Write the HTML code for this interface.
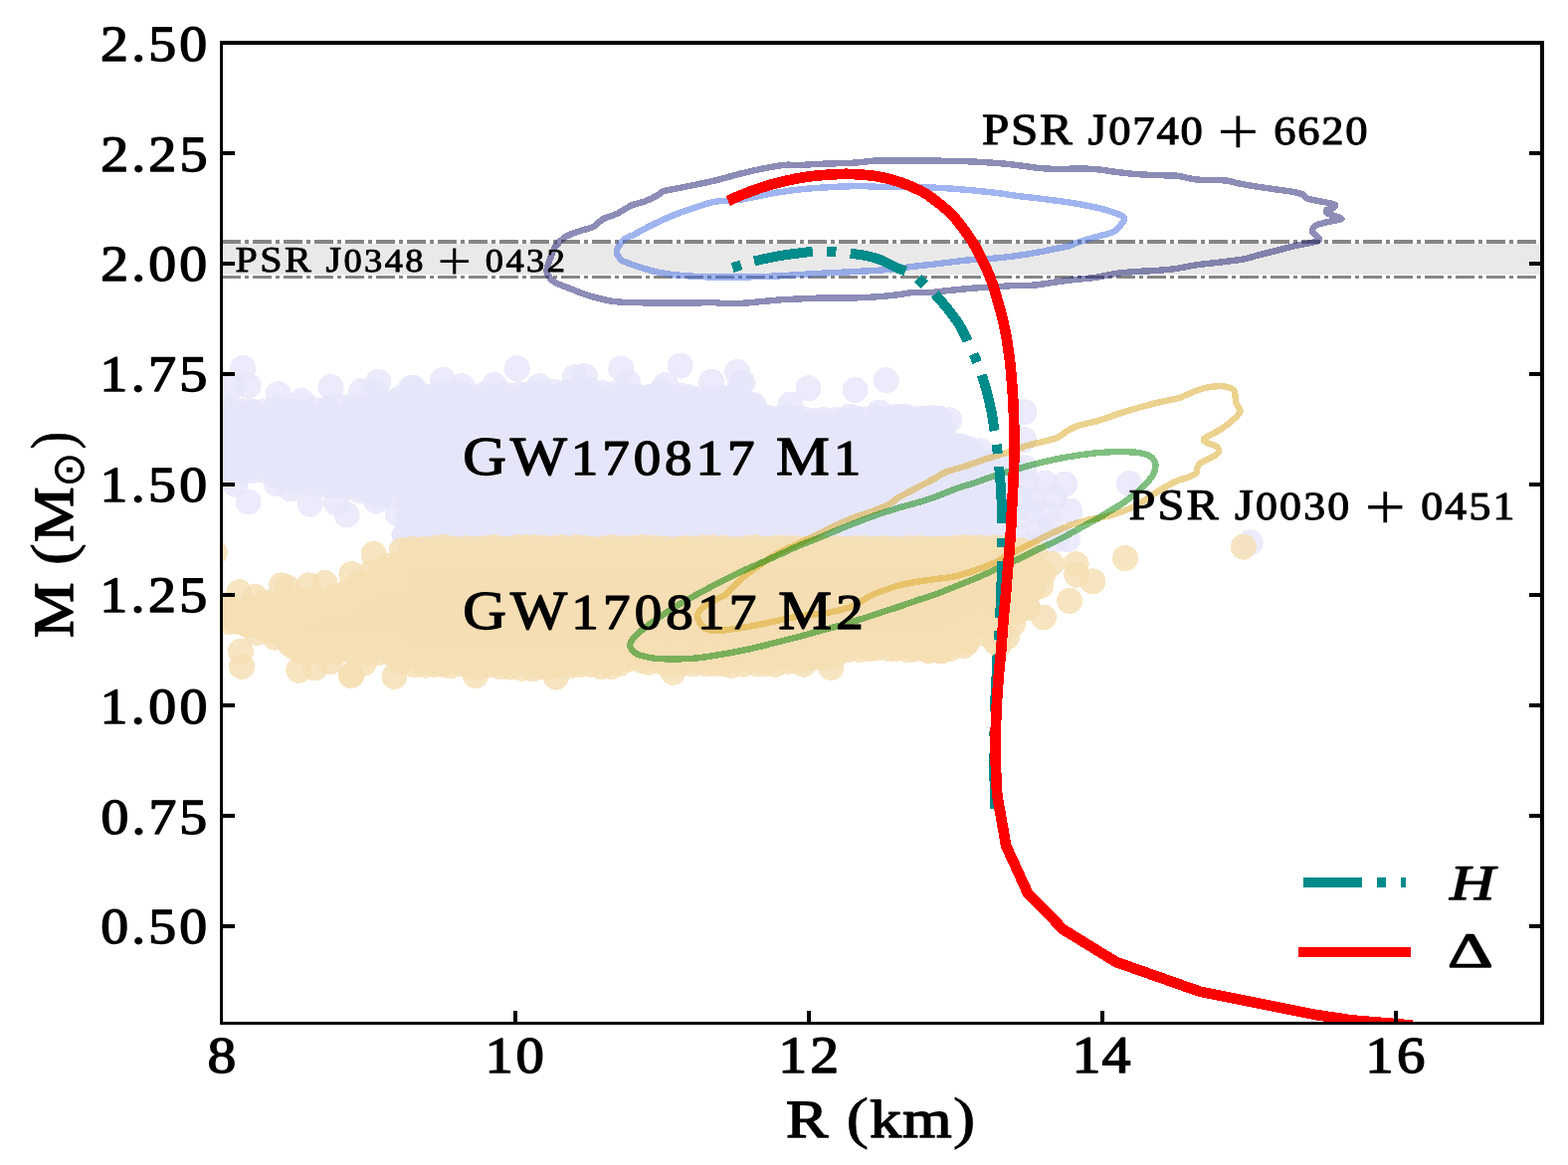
<!DOCTYPE html>
<html lang="en"><head><meta charset="utf-8"><title>Mass-radius relation</title>
<style>html,body{margin:0;padding:0;background:#fff}body{width:1576px;height:1171px;overflow:hidden}svg{display:block}text{font-family:"Liberation Serif",serif;text-rendering:geometricPrecision;fill:#000;stroke:#000;stroke-width:0.027em;stroke-linejoin:round}.sun{font-family:"DejaVu Sans",sans-serif;stroke-width:0.012em}.n2{stroke-width:0.013em}.c{font-size:1.1em}.p{font-size:1.68em;stroke-width:0}.n{font-size:1.075em;stroke-width:0.012em}</style></head><body>
<svg width="1576" height="1171" viewBox="0 0 1576 1171">
<rect width="1576" height="1171" fill="#fff"/>
<defs><clipPath id="ax"><rect x="222.6" y="42.9" width="1327.5" height="985.2"/></clipPath></defs>
<g clip-path="url(#ax)" shape-rendering="crispEdges">
<rect x="222.6" y="245.0" width="1324.1" height="31.3" fill="#d3d3d3" fill-opacity="0.5"/>
<g fill="#e6e6fa">
<path d="M398.0,404.0L403.0,402.4L408.0,401.4L413.0,400.9L418.0,400.8L423.0,400.7L428.0,400.6L433.0,400.5L438.0,400.4L443.0,400.3L448.0,400.2L453.0,400.0L458.0,400.1L463.0,400.2L468.0,400.3L473.0,400.4L478.0,400.5L483.0,400.6L488.0,400.7L493.0,400.8L498.0,401.0L503.0,400.9L508.0,400.8L513.0,400.7L518.0,400.6L523.0,400.4L528.0,400.3L533.0,400.2L538.0,400.1L543.0,399.7L548.0,399.1L553.0,398.5L558.0,397.9L563.0,397.4L568.0,396.8L573.0,396.2L578.0,396.1L583.0,396.3L588.0,396.5L593.0,396.7L598.0,396.9L603.0,397.6L608.0,398.6L613.0,399.6L618.0,400.1L623.0,400.2L628.0,400.4L633.0,400.5L638.0,400.7L643.0,400.8L648.0,401.0L653.0,401.2L658.0,401.3L663.0,401.5L668.0,401.6L673.0,401.8L678.0,401.9L683.0,402.1L688.0,402.4L693.0,402.6L698.0,402.9L703.0,402.9L708.0,402.8L713.0,402.7L718.0,402.6L723.0,402.5L728.0,402.4L733.0,402.3L738.0,402.2L743.0,402.0L748.0,404.7L753.0,409.2L758.0,415.3L763.0,421.1L768.0,421.5L773.0,421.9L778.0,422.3L783.0,422.7L788.0,423.1L793.0,423.4L798.0,423.8L803.0,424.2L808.0,424.6L813.0,425.0L818.0,425.3L823.0,425.7L828.0,425.9L833.0,425.7L838.0,425.4L843.0,425.1L848.0,424.8L853.0,424.5L858.0,424.2L863.0,424.0L868.0,423.7L873.0,423.4L878.0,423.1L883.0,423.0L888.0,423.0L893.0,423.0L898.0,423.0L903.0,423.1L908.0,423.3L913.0,423.5L918.0,423.7L923.0,423.8L928.0,424.0L933.0,424.2L938.0,424.4L943.0,424.6L948.0,424.7L953.0,424.9L958.0,437.0L963.0,449.8L968.0,453.4L973.0,454.0L978.0,454.7L983.0,455.3L988.0,456.0L993.0,467.0L998.0,468.2L1003.0,469.4L1008.0,470.6L1013.0,471.8L1014.0,472.0L1014.0,545.0L1013.0,545.0L1008.0,545.0L1003.0,545.0L998.0,545.0L993.0,545.0L988.0,545.0L983.0,545.0L978.0,545.0L973.0,545.0L968.0,545.0L963.0,545.0L958.0,545.0L953.0,545.0L948.0,545.0L943.0,545.0L938.0,545.0L933.0,545.0L928.0,545.0L923.0,545.0L918.0,545.0L913.0,545.0L908.0,545.0L903.0,545.0L898.0,545.0L893.0,545.0L888.0,545.0L883.0,545.0L878.0,545.0L873.0,545.0L868.0,545.0L863.0,545.0L858.0,545.0L853.0,545.0L848.0,545.0L843.0,545.0L838.0,545.0L833.0,545.0L828.0,545.0L823.0,545.0L818.0,545.0L813.0,545.0L808.0,545.0L803.0,545.0L798.0,545.0L793.0,545.0L788.0,545.0L783.0,545.0L778.0,545.0L773.0,545.0L768.0,545.0L763.0,545.0L758.0,545.0L753.0,545.0L748.0,545.0L743.0,545.0L738.0,545.0L733.0,545.0L728.0,545.0L723.0,545.0L718.0,545.0L713.0,545.0L708.0,545.0L703.0,545.0L698.0,545.0L693.0,545.0L688.0,545.0L683.0,545.0L678.0,545.0L673.0,545.0L668.0,545.0L663.0,545.0L658.0,545.0L653.0,545.0L648.0,545.0L643.0,545.0L638.0,545.0L633.0,545.0L628.0,545.0L623.0,545.0L618.0,545.0L613.0,545.0L608.0,545.0L603.0,545.0L598.0,545.0L593.0,545.0L588.0,545.0L583.0,545.0L578.0,545.0L573.0,545.0L568.0,545.0L563.0,545.0L558.0,545.0L553.0,545.0L548.0,545.0L543.0,545.0L538.0,545.0L533.0,545.0L528.0,545.0L523.0,545.0L518.0,545.0L513.0,545.0L508.0,545.0L503.0,545.0L498.0,545.0L493.0,545.0L488.0,545.0L483.0,545.0L478.0,545.0L473.0,545.0L468.0,545.0L463.0,545.0L458.0,545.0L453.0,545.0L448.0,545.0L443.0,545.0L438.0,545.0L433.0,545.0L428.0,545.0L423.0,545.0L418.0,545.0L413.0,545.0L408.0,545.0L403.0,545.0L398.0,545.0ZM215.0,413.4L220.0,413.6L225.0,413.8L230.0,413.9L235.0,414.1L240.0,414.2L245.0,414.4L250.0,414.5L255.0,414.6L260.0,414.8L265.0,414.9L270.0,415.1L275.0,415.2L280.0,415.4L285.0,415.6L290.0,415.7L295.0,415.9L300.0,416.0L305.0,415.6L310.0,415.2L315.0,414.8L320.0,414.4L325.0,414.0L330.0,413.6L335.0,413.2L340.0,412.8L345.0,412.4L350.0,412.0L355.0,411.5L360.0,411.0L365.0,410.5L370.0,410.0L375.0,409.5L380.0,409.0L385.0,408.5L390.0,408.0L395.0,407.5L400.0,407.0L402.0,407.0L402.0,497.0L400.0,497.0L395.0,496.2L390.0,495.3L385.0,494.5L380.0,493.7L375.0,492.8L370.0,492.0L365.0,491.2L360.0,490.3L355.0,489.5L350.0,488.7L345.0,487.8L340.0,487.0L335.0,486.0L330.0,485.0L325.0,484.0L320.0,483.0L315.0,482.0L310.0,481.0L305.0,480.0L300.0,479.0L295.0,477.9L290.0,476.9L285.0,475.8L280.0,474.8L275.0,473.7L270.0,472.7L265.0,471.6L260.0,471.1L255.0,471.2L250.0,471.4L245.0,471.5L240.0,471.7L235.0,471.9L230.0,472.0L225.0,472.2L220.0,472.4L215.0,472.5Z"/>
<g fill-opacity="0.8">
<circle cx="403.8" cy="399.4" r="13"/>
<circle cx="410.7" cy="407.6" r="13"/>
<circle cx="414.4" cy="397.0" r="13"/>
<circle cx="419.1" cy="407.7" r="13"/>
<circle cx="423.6" cy="397.1" r="13"/>
<circle cx="428.6" cy="408.0" r="13"/>
<circle cx="434.1" cy="398.9" r="13"/>
<circle cx="442.8" cy="407.3" r="13"/>
<circle cx="445.1" cy="395.7" r="13"/>
<circle cx="451.6" cy="405.3" r="13"/>
<circle cx="454.2" cy="395.6" r="13"/>
<circle cx="460.1" cy="406.4" r="13"/>
<circle cx="466.6" cy="397.7" r="13"/>
<circle cx="471.6" cy="407.4" r="13"/>
<circle cx="475.5" cy="399.0" r="13"/>
<circle cx="483.4" cy="408.1" r="13"/>
<circle cx="486.5" cy="396.9" r="13"/>
<circle cx="491.4" cy="406.0" r="13"/>
<circle cx="497.9" cy="399.0" r="13"/>
<circle cx="502.8" cy="408.8" r="13"/>
<circle cx="507.7" cy="396.9" r="13"/>
<circle cx="516.3" cy="407.0" r="13"/>
<circle cx="521.2" cy="396.2" r="13"/>
<circle cx="527.1" cy="407.7" r="13"/>
<circle cx="529.0" cy="396.7" r="13"/>
<circle cx="537.5" cy="407.4" r="13"/>
<circle cx="538.1" cy="395.8" r="13"/>
<circle cx="542.4" cy="406.9" r="13"/>
<circle cx="548.1" cy="395.9" r="13"/>
<circle cx="551.6" cy="405.7" r="13"/>
<circle cx="557.0" cy="394.0" r="13"/>
<circle cx="561.1" cy="403.2" r="13"/>
<circle cx="567.4" cy="395.0" r="13"/>
<circle cx="569.7" cy="404.2" r="13"/>
<circle cx="573.9" cy="394.1" r="13"/>
<circle cx="579.9" cy="401.5" r="13"/>
<circle cx="585.1" cy="392.7" r="13"/>
<circle cx="592.4" cy="402.6" r="13"/>
<circle cx="593.7" cy="392.6" r="13"/>
<circle cx="600.8" cy="402.8" r="13"/>
<circle cx="605.3" cy="395.0" r="13"/>
<circle cx="612.7" cy="405.6" r="13"/>
<circle cx="617.6" cy="396.1" r="13"/>
<circle cx="619.8" cy="407.9" r="13"/>
<circle cx="626.4" cy="396.4" r="13"/>
<circle cx="633.4" cy="408.3" r="13"/>
<circle cx="638.0" cy="398.8" r="13"/>
<circle cx="641.6" cy="407.1" r="13"/>
<circle cx="642.8" cy="399.3" r="13"/>
<circle cx="648.6" cy="408.2" r="13"/>
<circle cx="655.0" cy="398.5" r="13"/>
<circle cx="657.8" cy="406.8" r="13"/>
<circle cx="662.8" cy="397.7" r="13"/>
<circle cx="669.8" cy="409.2" r="13"/>
<circle cx="674.1" cy="400.1" r="13"/>
<circle cx="678.8" cy="407.0" r="13"/>
<circle cx="683.9" cy="397.8" r="13"/>
<circle cx="687.8" cy="408.5" r="13"/>
<circle cx="692.9" cy="399.3" r="13"/>
<circle cx="700.9" cy="410.9" r="13"/>
<circle cx="705.8" cy="400.1" r="13"/>
<circle cx="708.6" cy="407.9" r="13"/>
<circle cx="714.7" cy="400.3" r="13"/>
<circle cx="719.9" cy="407.7" r="13"/>
<circle cx="723.5" cy="400.2" r="13"/>
<circle cx="727.9" cy="410.4" r="13"/>
<circle cx="732.1" cy="400.0" r="13"/>
<circle cx="738.5" cy="409.4" r="13"/>
<circle cx="743.9" cy="400.3" r="13"/>
<circle cx="747.1" cy="411.5" r="13"/>
<circle cx="755.8" cy="407.1" r="13"/>
<circle cx="760.5" cy="424.8" r="13"/>
<circle cx="765.1" cy="417.9" r="13"/>
<circle cx="769.9" cy="428.4" r="13"/>
<circle cx="773.5" cy="420.3" r="13"/>
<circle cx="779.5" cy="429.4" r="13"/>
<circle cx="783.4" cy="419.9" r="13"/>
<circle cx="787.3" cy="430.5" r="13"/>
<circle cx="791.8" cy="418.9" r="13"/>
<circle cx="796.2" cy="430.1" r="13"/>
<circle cx="800.5" cy="421.0" r="13"/>
<circle cx="805.2" cy="432.1" r="13"/>
<circle cx="806.8" cy="421.1" r="13"/>
<circle cx="814.5" cy="430.6" r="13"/>
<circle cx="819.1" cy="422.8" r="13"/>
<circle cx="822.2" cy="433.3" r="13"/>
<circle cx="827.4" cy="422.1" r="13"/>
<circle cx="831.5" cy="433.1" r="13"/>
<circle cx="839.9" cy="422.0" r="13"/>
<circle cx="843.7" cy="431.0" r="13"/>
<circle cx="846.9" cy="422.9" r="13"/>
<circle cx="853.4" cy="431.7" r="13"/>
<circle cx="857.9" cy="420.2" r="13"/>
<circle cx="863.6" cy="429.7" r="13"/>
<circle cx="867.3" cy="421.1" r="13"/>
<circle cx="872.6" cy="429.4" r="13"/>
<circle cx="880.9" cy="419.9" r="13"/>
<circle cx="882.3" cy="428.1" r="13"/>
<circle cx="888.6" cy="420.6" r="13"/>
<circle cx="895.7" cy="428.9" r="13"/>
<circle cx="899.7" cy="419.0" r="13"/>
<circle cx="906.5" cy="428.3" r="13"/>
<circle cx="911.9" cy="419.4" r="13"/>
<circle cx="916.1" cy="430.5" r="13"/>
<circle cx="923.3" cy="421.3" r="13"/>
<circle cx="929.0" cy="431.9" r="13"/>
<circle cx="932.3" cy="421.1" r="13"/>
<circle cx="937.2" cy="429.4" r="13"/>
<circle cx="944.2" cy="420.6" r="13"/>
<circle cx="947.5" cy="430.8" r="13"/>
<circle cx="954.2" cy="422.3" r="13"/>
<circle cx="960.2" cy="447.8" r="13"/>
<circle cx="966.9" cy="448.8" r="13"/>
<circle cx="972.0" cy="460.9" r="13"/>
<circle cx="973.7" cy="451.5" r="13"/>
<circle cx="980.5" cy="460.9" r="13"/>
<circle cx="985.6" cy="453.4" r="13"/>
<circle cx="990.9" cy="464.8" r="13"/>
<circle cx="993.5" cy="465.1" r="13"/>
<circle cx="1001.0" cy="475.5" r="13"/>
<circle cx="1004.4" cy="468.2" r="13"/>
<circle cx="1012.5" cy="479.1" r="13"/>
<circle cx="223.2" cy="410.4" r="13"/>
<circle cx="229.1" cy="422.2" r="13"/>
<circle cx="230.7" cy="411.2" r="13"/>
<circle cx="238.1" cy="422.2" r="13"/>
<circle cx="241.5" cy="413.0" r="13"/>
<circle cx="247.1" cy="422.7" r="13"/>
<circle cx="252.4" cy="413.2" r="13"/>
<circle cx="257.1" cy="420.4" r="13"/>
<circle cx="265.0" cy="413.8" r="13"/>
<circle cx="270.4" cy="423.9" r="13"/>
<circle cx="276.9" cy="411.1" r="13"/>
<circle cx="279.5" cy="422.5" r="13"/>
<circle cx="286.1" cy="413.6" r="13"/>
<circle cx="290.8" cy="424.1" r="13"/>
<circle cx="295.7" cy="412.9" r="13"/>
<circle cx="303.4" cy="424.4" r="13"/>
<circle cx="307.7" cy="414.9" r="13"/>
<circle cx="311.9" cy="422.3" r="13"/>
<circle cx="316.3" cy="412.2" r="13"/>
<circle cx="322.0" cy="419.4" r="13"/>
<circle cx="329.1" cy="410.8" r="13"/>
<circle cx="335.7" cy="420.5" r="13"/>
<circle cx="340.7" cy="408.6" r="13"/>
<circle cx="345.6" cy="419.0" r="13"/>
<circle cx="354.5" cy="408.3" r="13"/>
<circle cx="358.2" cy="416.7" r="13"/>
<circle cx="364.8" cy="409.8" r="13"/>
<circle cx="368.9" cy="416.4" r="13"/>
<circle cx="373.8" cy="408.9" r="13"/>
<circle cx="377.3" cy="417.2" r="13"/>
<circle cx="381.1" cy="405.2" r="13"/>
<circle cx="388.6" cy="414.5" r="13"/>
<circle cx="393.3" cy="403.6" r="13"/>
<circle cx="399.2" cy="412.7" r="13"/>
<circle cx="221.0" cy="476.0" r="13"/>
<circle cx="227.6" cy="465.4" r="13"/>
<circle cx="232.2" cy="474.3" r="13"/>
<circle cx="236.6" cy="466.0" r="13"/>
<circle cx="244.6" cy="474.0" r="13"/>
<circle cx="250.9" cy="464.0" r="13"/>
<circle cx="255.4" cy="472.7" r="13"/>
<circle cx="263.2" cy="462.4" r="13"/>
<circle cx="266.0" cy="472.8" r="13"/>
<circle cx="271.1" cy="464.2" r="13"/>
<circle cx="277.8" cy="478.2" r="13"/>
<circle cx="285.7" cy="469.8" r="13"/>
<circle cx="290.0" cy="479.4" r="13"/>
<circle cx="295.3" cy="472.3" r="13"/>
<circle cx="300.0" cy="483.3" r="13"/>
<circle cx="303.6" cy="472.2" r="13"/>
<circle cx="313.8" cy="485.4" r="13"/>
<circle cx="317.4" cy="474.5" r="13"/>
<circle cx="323.7" cy="487.3" r="13"/>
<circle cx="326.7" cy="479.3" r="13"/>
<circle cx="332.3" cy="487.9" r="13"/>
<circle cx="337.8" cy="480.9" r="13"/>
<circle cx="340.6" cy="488.4" r="13"/>
<circle cx="349.3" cy="479.5" r="13"/>
<circle cx="349.4" cy="489.6" r="13"/>
<circle cx="356.5" cy="481.7" r="13"/>
<circle cx="361.4" cy="493.0" r="13"/>
<circle cx="366.7" cy="484.1" r="13"/>
<circle cx="371.4" cy="493.2" r="13"/>
<circle cx="374.8" cy="486.2" r="13"/>
<circle cx="382.1" cy="497.8" r="13"/>
<circle cx="386.7" cy="488.0" r="13"/>
<circle cx="393.1" cy="496.9" r="13"/>
<circle cx="397.9" cy="488.1" r="13"/>
<circle cx="244.2" cy="370.0" r="13"/>
<circle cx="249.6" cy="387.7" r="13"/>
<circle cx="234.2" cy="387.7" r="13"/>
<circle cx="279.6" cy="396.1" r="13"/>
<circle cx="303.4" cy="403.0" r="13"/>
<circle cx="332.6" cy="389.2" r="13"/>
<circle cx="329.5" cy="411.5" r="13"/>
<circle cx="363.3" cy="393.0" r="13"/>
<circle cx="380.3" cy="383.8" r="13"/>
<circle cx="378.0" cy="394.6" r="13"/>
<circle cx="413.3" cy="390.0" r="13"/>
<circle cx="253.4" cy="414.6" r="13"/>
<circle cx="235.0" cy="426.0" r="13"/>
<circle cx="249.6" cy="504.5" r="13"/>
<circle cx="236.5" cy="486.8" r="13"/>
<circle cx="278.0" cy="486.0" r="13"/>
<circle cx="291.9" cy="491.4" r="13"/>
<circle cx="311.8" cy="506.8" r="13"/>
<circle cx="338.0" cy="505.3" r="13"/>
<circle cx="348.7" cy="517.6" r="13"/>
<circle cx="378.0" cy="503.7" r="13"/>
<circle cx="399.5" cy="516.0" r="13"/>
<circle cx="406.4" cy="537.9" r="13"/>
<circle cx="407.2" cy="537.7" r="13"/>
<circle cx="415.2" cy="389.5" r="13"/>
<circle cx="542.1" cy="388.2" r="13"/>
<circle cx="577.7" cy="379.3" r="13"/>
<circle cx="587.8" cy="378.1" r="13"/>
<circle cx="631.0" cy="384.4" r="13"/>
<circle cx="664.0" cy="393.3" r="13"/>
<circle cx="669.0" cy="387.0" r="13"/>
<circle cx="757.9" cy="407.3" r="13"/>
<circle cx="746.6" cy="384.8" r="13"/>
<circle cx="853.9" cy="418.6" r="13"/>
<circle cx="883.6" cy="414.5" r="13"/>
<circle cx="905.0" cy="418.6" r="13"/>
<circle cx="924.8" cy="421.1" r="13"/>
<circle cx="944.6" cy="421.1" r="13"/>
<circle cx="952.9" cy="449.1" r="13"/>
<circle cx="971.0" cy="452.4" r="13"/>
<circle cx="445.2" cy="382.0" r="13"/>
<circle cx="464.1" cy="388.2" r="13"/>
<circle cx="496.9" cy="387.2" r="13"/>
<circle cx="519.8" cy="370.3" r="13"/>
<circle cx="624.3" cy="370.8" r="13"/>
<circle cx="683.7" cy="367.6" r="13"/>
<circle cx="715.2" cy="383.8" r="13"/>
<circle cx="741.1" cy="374.0" r="13"/>
<circle cx="744.4" cy="385.4" r="13"/>
<circle cx="794.6" cy="406.5" r="13"/>
<circle cx="812.5" cy="390.3" r="13"/>
<circle cx="859.5" cy="391.9" r="13"/>
<circle cx="890.8" cy="382.2" r="13"/>
<circle cx="907.8" cy="418.9" r="13"/>
<circle cx="926.6" cy="421.1" r="13"/>
<circle cx="943.8" cy="421.1" r="13"/>
<circle cx="937.4" cy="419.5" r="13"/>
<circle cx="954.4" cy="451.1" r="13"/>
<circle cx="974.4" cy="453.3" r="13"/>
<circle cx="1029.4" cy="414.4" r="13"/>
<circle cx="1028.9" cy="441.8" r="13"/>
<circle cx="1032.2" cy="485.5" r="13"/>
<circle cx="1050.5" cy="485.5" r="13"/>
<circle cx="1070.0" cy="486.6" r="13"/>
<circle cx="1134.9" cy="486.0" r="13"/>
<circle cx="1075.5" cy="513.5" r="13"/>
<circle cx="1052.2" cy="516.0" r="13"/>
<circle cx="1030.0" cy="470.0" r="13"/>
<circle cx="1024.0" cy="500.0" r="13"/>
<circle cx="1040.0" cy="503.0" r="13"/>
<circle cx="1045.0" cy="530.0" r="13"/>
<circle cx="1056.0" cy="528.0" r="13"/>
<circle cx="1024.0" cy="538.0" r="13"/>
<circle cx="1072.7" cy="542.2" r="13"/>
<circle cx="1062.0" cy="542.0" r="13"/>
<circle cx="1045.0" cy="546.0" r="13"/>
<circle cx="1030.0" cy="548.0" r="13"/>
<circle cx="1256.6" cy="545.4" r="13"/>
<circle cx="1020.0" cy="470.0" r="13"/>
<circle cx="1022.0" cy="520.0" r="13"/>
<circle cx="1036.0" cy="512.0" r="13"/>
<circle cx="1060.0" cy="500.0" r="13"/>
</g></g>
<g fill="#f5deb3">
<path d="M398.0,560.2L403.0,557.0L408.0,555.2L413.0,554.5L418.0,554.5L423.0,554.5L428.0,554.5L433.0,554.5L438.0,554.5L443.0,554.5L448.0,554.5L453.0,554.5L458.0,554.5L463.0,554.5L468.0,554.5L473.0,554.5L478.0,554.5L483.0,554.5L488.0,554.5L493.0,554.5L498.0,554.5L503.0,554.5L508.0,554.5L513.0,554.5L518.0,554.5L523.0,554.5L528.0,554.5L533.0,554.5L538.0,554.5L543.0,554.5L548.0,554.5L553.0,554.5L558.0,554.5L563.0,554.5L568.0,554.5L573.0,554.5L578.0,554.5L583.0,554.5L588.0,554.5L593.0,554.5L598.0,554.5L603.0,554.5L608.0,554.5L613.0,554.5L618.0,554.5L623.0,554.5L628.0,554.5L633.0,554.5L638.0,554.5L643.0,554.5L648.0,554.5L653.0,554.5L658.0,554.5L663.0,554.5L668.0,554.5L673.0,554.5L678.0,554.5L683.0,554.5L688.0,554.5L693.0,554.5L698.0,554.5L703.0,554.5L708.0,554.5L713.0,554.5L718.0,554.5L723.0,554.5L728.0,554.5L733.0,554.5L738.0,554.5L743.0,554.5L748.0,554.5L753.0,554.5L758.0,554.5L763.0,554.5L768.0,554.5L773.0,554.5L778.0,554.5L783.0,554.5L788.0,554.5L793.0,554.5L798.0,554.5L803.0,554.5L808.0,554.5L813.0,554.5L818.0,554.5L823.0,554.5L828.0,554.5L833.0,554.5L838.0,554.5L843.0,554.5L848.0,554.5L853.0,554.5L858.0,554.5L863.0,554.5L868.0,554.5L873.0,554.5L878.0,554.5L883.0,554.5L888.0,554.5L893.0,554.5L898.0,554.5L903.0,554.5L908.0,554.5L913.0,554.5L918.0,554.5L923.0,554.5L928.0,554.5L933.0,554.5L938.0,554.5L943.0,554.5L948.0,554.5L953.0,554.5L958.0,554.5L963.0,554.5L968.0,554.5L973.0,554.5L978.0,554.5L983.0,554.5L988.0,554.5L993.0,554.5L998.0,554.5L1003.0,554.5L1008.0,554.5L1013.0,554.5L1016.0,554.5L1016.0,635.0L1013.0,637.7L1008.0,642.3L1003.0,643.7L998.0,640.3L993.0,637.0L988.0,633.0L983.0,628.0L978.0,633.0L973.0,640.8L968.0,642.8L963.0,644.8L958.0,646.5L953.0,647.7L948.0,648.9L943.0,650.1L938.0,651.3L933.0,651.8L928.0,651.3L923.0,650.8L918.0,650.3L913.0,649.8L908.0,649.3L903.0,648.8L898.0,648.6L893.0,648.7L888.0,648.9L883.0,649.0L878.0,649.2L873.0,649.4L868.0,649.5L863.0,649.7L858.0,649.8L853.0,650.0L848.0,651.9L843.0,653.8L838.0,655.3L833.0,656.1L828.0,656.9L823.0,657.6L818.0,658.4L813.0,659.2L808.0,660.0L803.0,660.8L798.0,661.5L793.0,662.4L788.0,663.4L783.0,664.5L778.0,665.5L773.0,665.4L768.0,665.3L763.0,665.2L758.0,665.1L753.0,665.0L748.0,664.9L743.0,664.9L738.0,664.8L733.0,664.7L728.0,664.6L723.0,664.5L718.0,664.4L713.0,664.3L708.0,664.2L703.0,664.1L698.0,664.0L693.0,663.9L688.0,663.8L683.0,663.6L678.0,663.5L673.0,663.4L668.0,663.2L663.0,663.1L658.0,662.9L653.0,662.5L648.0,662.1L643.0,661.8L638.0,661.4L633.0,661.1L628.0,662.2L623.0,663.6L618.0,665.1L613.0,666.0L608.0,666.0L603.0,666.0L598.0,666.0L593.0,666.0L588.0,666.0L583.0,666.0L578.0,666.0L573.0,666.0L568.0,666.4L563.0,666.8L558.0,667.3L553.0,667.8L548.0,668.2L543.0,668.7L538.0,668.9L533.0,668.6L528.0,668.4L523.0,668.1L518.0,667.9L513.0,667.6L508.0,667.4L503.0,667.1L498.0,666.9L493.0,666.6L488.0,666.5L483.0,666.3L478.0,666.2L473.0,666.1L468.0,666.0L463.0,665.9L458.0,665.8L453.0,665.7L448.0,665.7L443.0,665.6L438.0,665.5L433.0,665.4L428.0,665.3L423.0,665.2L418.0,665.1L413.0,665.1L408.0,664.7L403.0,663.9L398.0,663.2ZM215.0,614.8L220.0,614.7L225.0,614.6L230.0,614.5L235.0,614.4L240.0,614.3L245.0,614.2L250.0,614.2L255.0,614.1L260.0,614.0L265.0,610.0L270.0,606.0L275.0,605.8L280.0,605.7L285.0,605.5L290.0,605.3L295.0,605.2L300.0,605.0L305.0,604.8L310.0,604.7L315.0,604.5L320.0,604.3L325.0,604.2L330.0,604.0L335.0,601.5L340.0,599.0L345.0,596.5L350.0,594.0L355.0,590.1L360.0,586.3L365.0,582.4L370.0,578.5L375.0,576.6L380.0,575.9L385.0,575.1L390.0,574.4L395.0,573.7L400.0,573.0L402.0,573.0L402.0,657.0L400.0,657.0L395.0,656.8L390.0,656.6L385.0,656.4L380.0,656.2L375.0,656.0L370.0,655.8L365.0,655.6L360.0,655.4L355.0,655.2L350.0,655.0L345.0,654.8L340.0,654.6L335.0,654.4L330.0,654.2L325.0,654.0L320.0,653.8L315.0,653.6L310.0,653.4L305.0,653.2L300.0,653.0L295.0,648.0L290.0,643.0L285.0,638.0L280.0,633.0L275.0,632.0L270.0,631.0L265.0,630.0L260.0,629.0L255.0,628.0L250.0,627.0L245.0,624.9L240.0,622.7L235.0,620.6L230.0,618.4L225.0,616.3L220.0,615.0L215.0,615.0Z"/>
<g fill-opacity="0.8">
<circle cx="403.6" cy="553.3" r="13"/>
<circle cx="409.0" cy="561.8" r="13"/>
<circle cx="414.3" cy="551.8" r="13"/>
<circle cx="421.2" cy="561.1" r="13"/>
<circle cx="426.1" cy="551.8" r="13"/>
<circle cx="433.0" cy="560.9" r="13"/>
<circle cx="438.6" cy="550.8" r="13"/>
<circle cx="443.4" cy="559.6" r="13"/>
<circle cx="446.8" cy="550.0" r="13"/>
<circle cx="451.3" cy="560.8" r="13"/>
<circle cx="456.3" cy="551.9" r="13"/>
<circle cx="463.1" cy="560.2" r="13"/>
<circle cx="468.3" cy="551.1" r="13"/>
<circle cx="472.6" cy="561.5" r="13"/>
<circle cx="479.4" cy="551.5" r="13"/>
<circle cx="485.5" cy="559.5" r="13"/>
<circle cx="490.0" cy="550.5" r="13"/>
<circle cx="493.7" cy="559.6" r="13"/>
<circle cx="497.4" cy="550.2" r="13"/>
<circle cx="501.9" cy="561.3" r="13"/>
<circle cx="508.1" cy="551.9" r="13"/>
<circle cx="513.3" cy="561.5" r="13"/>
<circle cx="519.9" cy="550.2" r="13"/>
<circle cx="524.0" cy="561.0" r="13"/>
<circle cx="528.5" cy="550.3" r="13"/>
<circle cx="531.7" cy="559.8" r="13"/>
<circle cx="537.2" cy="550.1" r="13"/>
<circle cx="543.6" cy="560.3" r="13"/>
<circle cx="547.3" cy="550.7" r="13"/>
<circle cx="551.0" cy="560.8" r="13"/>
<circle cx="556.3" cy="551.4" r="13"/>
<circle cx="561.3" cy="559.5" r="13"/>
<circle cx="564.3" cy="550.3" r="13"/>
<circle cx="572.1" cy="560.3" r="13"/>
<circle cx="578.7" cy="550.1" r="13"/>
<circle cx="584.7" cy="561.4" r="13"/>
<circle cx="587.6" cy="550.9" r="13"/>
<circle cx="590.9" cy="561.4" r="13"/>
<circle cx="595.1" cy="551.9" r="13"/>
<circle cx="600.9" cy="560.4" r="13"/>
<circle cx="608.1" cy="551.2" r="13"/>
<circle cx="610.3" cy="560.7" r="13"/>
<circle cx="615.5" cy="550.1" r="13"/>
<circle cx="621.8" cy="559.7" r="13"/>
<circle cx="627.1" cy="550.9" r="13"/>
<circle cx="630.5" cy="560.7" r="13"/>
<circle cx="637.3" cy="551.1" r="13"/>
<circle cx="643.1" cy="561.4" r="13"/>
<circle cx="646.0" cy="550.2" r="13"/>
<circle cx="653.7" cy="561.1" r="13"/>
<circle cx="657.0" cy="550.5" r="13"/>
<circle cx="663.3" cy="560.6" r="13"/>
<circle cx="668.5" cy="551.5" r="13"/>
<circle cx="671.7" cy="560.0" r="13"/>
<circle cx="681.5" cy="551.8" r="13"/>
<circle cx="683.0" cy="559.6" r="13"/>
<circle cx="688.7" cy="551.2" r="13"/>
<circle cx="692.4" cy="560.6" r="13"/>
<circle cx="695.6" cy="551.4" r="13"/>
<circle cx="702.5" cy="560.8" r="13"/>
<circle cx="706.7" cy="550.4" r="13"/>
<circle cx="711.1" cy="561.0" r="13"/>
<circle cx="716.4" cy="550.2" r="13"/>
<circle cx="724.3" cy="560.7" r="13"/>
<circle cx="728.0" cy="550.8" r="13"/>
<circle cx="733.2" cy="561.1" r="13"/>
<circle cx="739.3" cy="552.0" r="13"/>
<circle cx="742.9" cy="560.6" r="13"/>
<circle cx="751.3" cy="550.9" r="13"/>
<circle cx="754.1" cy="559.7" r="13"/>
<circle cx="759.4" cy="550.2" r="13"/>
<circle cx="766.4" cy="560.5" r="13"/>
<circle cx="771.1" cy="551.6" r="13"/>
<circle cx="775.2" cy="559.9" r="13"/>
<circle cx="780.8" cy="550.6" r="13"/>
<circle cx="788.4" cy="560.9" r="13"/>
<circle cx="790.2" cy="550.7" r="13"/>
<circle cx="797.6" cy="560.2" r="13"/>
<circle cx="801.0" cy="551.1" r="13"/>
<circle cx="806.8" cy="561.4" r="13"/>
<circle cx="811.5" cy="551.6" r="13"/>
<circle cx="816.0" cy="560.1" r="13"/>
<circle cx="823.1" cy="551.8" r="13"/>
<circle cx="825.4" cy="560.2" r="13"/>
<circle cx="830.3" cy="550.8" r="13"/>
<circle cx="835.4" cy="559.9" r="13"/>
<circle cx="842.3" cy="551.1" r="13"/>
<circle cx="847.4" cy="560.6" r="13"/>
<circle cx="850.8" cy="551.8" r="13"/>
<circle cx="853.9" cy="559.5" r="13"/>
<circle cx="860.0" cy="551.1" r="13"/>
<circle cx="866.7" cy="560.8" r="13"/>
<circle cx="869.3" cy="551.1" r="13"/>
<circle cx="877.2" cy="559.7" r="13"/>
<circle cx="880.4" cy="551.8" r="13"/>
<circle cx="882.7" cy="560.8" r="13"/>
<circle cx="889.0" cy="551.3" r="13"/>
<circle cx="892.0" cy="559.9" r="13"/>
<circle cx="899.1" cy="551.5" r="13"/>
<circle cx="903.6" cy="560.2" r="13"/>
<circle cx="911.6" cy="551.0" r="13"/>
<circle cx="916.1" cy="560.9" r="13"/>
<circle cx="923.4" cy="550.8" r="13"/>
<circle cx="928.1" cy="560.8" r="13"/>
<circle cx="934.4" cy="551.7" r="13"/>
<circle cx="939.7" cy="561.4" r="13"/>
<circle cx="943.8" cy="551.4" r="13"/>
<circle cx="949.9" cy="560.3" r="13"/>
<circle cx="952.0" cy="551.5" r="13"/>
<circle cx="960.4" cy="560.3" r="13"/>
<circle cx="960.9" cy="550.8" r="13"/>
<circle cx="966.2" cy="561.4" r="13"/>
<circle cx="969.5" cy="550.2" r="13"/>
<circle cx="975.9" cy="561.1" r="13"/>
<circle cx="977.3" cy="550.9" r="13"/>
<circle cx="984.4" cy="561.3" r="13"/>
<circle cx="985.6" cy="550.4" r="13"/>
<circle cx="991.0" cy="560.0" r="13"/>
<circle cx="998.4" cy="550.4" r="13"/>
<circle cx="1001.8" cy="560.1" r="13"/>
<circle cx="1007.8" cy="550.6" r="13"/>
<circle cx="1011.9" cy="561.1" r="13"/>
<circle cx="403.0" cy="665.9" r="13"/>
<circle cx="410.7" cy="658.8" r="13"/>
<circle cx="416.0" cy="668.1" r="13"/>
<circle cx="418.1" cy="660.0" r="13"/>
<circle cx="427.2" cy="668.6" r="13"/>
<circle cx="431.1" cy="658.8" r="13"/>
<circle cx="437.0" cy="668.0" r="13"/>
<circle cx="439.0" cy="660.5" r="13"/>
<circle cx="444.5" cy="667.7" r="13"/>
<circle cx="450.8" cy="658.9" r="13"/>
<circle cx="452.2" cy="669.3" r="13"/>
<circle cx="457.6" cy="658.2" r="13"/>
<circle cx="464.2" cy="667.4" r="13"/>
<circle cx="467.7" cy="659.4" r="13"/>
<circle cx="473.3" cy="670.6" r="13"/>
<circle cx="478.6" cy="658.7" r="13"/>
<circle cx="481.9" cy="670.0" r="13"/>
<circle cx="489.4" cy="661.2" r="13"/>
<circle cx="493.3" cy="668.3" r="13"/>
<circle cx="498.8" cy="659.4" r="13"/>
<circle cx="503.8" cy="670.4" r="13"/>
<circle cx="509.4" cy="662.1" r="13"/>
<circle cx="512.8" cy="670.6" r="13"/>
<circle cx="519.1" cy="662.5" r="13"/>
<circle cx="524.6" cy="671.8" r="13"/>
<circle cx="528.6" cy="662.6" r="13"/>
<circle cx="536.1" cy="672.2" r="13"/>
<circle cx="540.9" cy="663.7" r="13"/>
<circle cx="544.6" cy="670.2" r="13"/>
<circle cx="551.1" cy="661.1" r="13"/>
<circle cx="552.3" cy="670.2" r="13"/>
<circle cx="556.8" cy="660.6" r="13"/>
<circle cx="560.7" cy="668.4" r="13"/>
<circle cx="568.8" cy="660.8" r="13"/>
<circle cx="572.3" cy="669.4" r="13"/>
<circle cx="578.3" cy="660.1" r="13"/>
<circle cx="582.0" cy="668.5" r="13"/>
<circle cx="586.5" cy="660.4" r="13"/>
<circle cx="592.7" cy="667.7" r="13"/>
<circle cx="598.6" cy="658.8" r="13"/>
<circle cx="604.0" cy="670.2" r="13"/>
<circle cx="606.3" cy="660.7" r="13"/>
<circle cx="614.3" cy="670.0" r="13"/>
<circle cx="618.0" cy="657.5" r="13"/>
<circle cx="622.2" cy="667.2" r="13"/>
<circle cx="627.4" cy="656.6" r="13"/>
<circle cx="631.7" cy="662.8" r="13"/>
<circle cx="638.1" cy="654.9" r="13"/>
<circle cx="645.1" cy="663.9" r="13"/>
<circle cx="648.6" cy="656.2" r="13"/>
<circle cx="651.7" cy="665.8" r="13"/>
<circle cx="659.5" cy="655.0" r="13"/>
<circle cx="665.5" cy="665.8" r="13"/>
<circle cx="667.9" cy="657.3" r="13"/>
<circle cx="674.8" cy="667.6" r="13"/>
<circle cx="678.7" cy="657.0" r="13"/>
<circle cx="686.6" cy="666.4" r="13"/>
<circle cx="689.0" cy="656.5" r="13"/>
<circle cx="697.1" cy="667.4" r="13"/>
<circle cx="702.0" cy="658.7" r="13"/>
<circle cx="709.8" cy="667.2" r="13"/>
<circle cx="713.7" cy="656.8" r="13"/>
<circle cx="718.4" cy="667.0" r="13"/>
<circle cx="720.4" cy="659.2" r="13"/>
<circle cx="725.9" cy="666.9" r="13"/>
<circle cx="729.9" cy="656.8" r="13"/>
<circle cx="734.9" cy="668.8" r="13"/>
<circle cx="741.9" cy="659.4" r="13"/>
<circle cx="746.8" cy="667.7" r="13"/>
<circle cx="751.9" cy="659.2" r="13"/>
<circle cx="760.2" cy="667.2" r="13"/>
<circle cx="763.7" cy="659.9" r="13"/>
<circle cx="768.7" cy="667.2" r="13"/>
<circle cx="773.5" cy="658.7" r="13"/>
<circle cx="779.6" cy="667.8" r="13"/>
<circle cx="784.2" cy="658.8" r="13"/>
<circle cx="791.6" cy="664.8" r="13"/>
<circle cx="795.2" cy="656.2" r="13"/>
<circle cx="801.3" cy="664.5" r="13"/>
<circle cx="805.7" cy="653.0" r="13"/>
<circle cx="807.2" cy="663.0" r="13"/>
<circle cx="811.9" cy="653.0" r="13"/>
<circle cx="817.3" cy="661.3" r="13"/>
<circle cx="822.7" cy="650.8" r="13"/>
<circle cx="828.5" cy="661.3" r="13"/>
<circle cx="833.7" cy="650.7" r="13"/>
<circle cx="840.2" cy="658.1" r="13"/>
<circle cx="844.5" cy="646.3" r="13"/>
<circle cx="851.6" cy="653.2" r="13"/>
<circle cx="855.5" cy="641.9" r="13"/>
<circle cx="863.3" cy="653.0" r="13"/>
<circle cx="866.7" cy="642.9" r="13"/>
<circle cx="873.6" cy="652.3" r="13"/>
<circle cx="878.3" cy="641.5" r="13"/>
<circle cx="881.0" cy="651.4" r="13"/>
<circle cx="889.4" cy="641.7" r="13"/>
<circle cx="894.2" cy="652.3" r="13"/>
<circle cx="898.6" cy="643.3" r="13"/>
<circle cx="901.5" cy="651.7" r="13"/>
<circle cx="906.3" cy="644.0" r="13"/>
<circle cx="912.6" cy="653.5" r="13"/>
<circle cx="916.7" cy="644.1" r="13"/>
<circle cx="919.7" cy="652.4" r="13"/>
<circle cx="928.3" cy="644.1" r="13"/>
<circle cx="932.6" cy="653.9" r="13"/>
<circle cx="936.8" cy="644.1" r="13"/>
<circle cx="944.8" cy="654.2" r="13"/>
<circle cx="949.3" cy="643.5" r="13"/>
<circle cx="955.1" cy="652.1" r="13"/>
<circle cx="957.3" cy="640.5" r="13"/>
<circle cx="960.9" cy="646.8" r="13"/>
<circle cx="968.9" cy="636.8" r="13"/>
<circle cx="972.4" cy="645.5" r="13"/>
<circle cx="975.2" cy="627.5" r="13"/>
<circle cx="981.3" cy="628.0" r="13"/>
<circle cx="988.2" cy="624.9" r="13"/>
<circle cx="989.3" cy="636.8" r="13"/>
<circle cx="996.7" cy="632.8" r="13"/>
<circle cx="1000.9" cy="645.7" r="13"/>
<circle cx="1005.1" cy="636.0" r="13"/>
<circle cx="224.8" cy="614.6" r="13"/>
<circle cx="230.3" cy="625.0" r="13"/>
<circle cx="233.6" cy="614.8" r="13"/>
<circle cx="240.0" cy="624.9" r="13"/>
<circle cx="248.5" cy="612.2" r="13"/>
<circle cx="254.0" cy="624.9" r="13"/>
<circle cx="256.8" cy="612.4" r="13"/>
<circle cx="263.2" cy="620.7" r="13"/>
<circle cx="267.0" cy="605.8" r="13"/>
<circle cx="274.4" cy="616.0" r="13"/>
<circle cx="279.4" cy="606.7" r="13"/>
<circle cx="284.6" cy="613.4" r="13"/>
<circle cx="290.6" cy="605.5" r="13"/>
<circle cx="293.5" cy="614.7" r="13"/>
<circle cx="300.2" cy="604.3" r="13"/>
<circle cx="303.9" cy="614.0" r="13"/>
<circle cx="307.9" cy="603.4" r="13"/>
<circle cx="312.0" cy="614.8" r="13"/>
<circle cx="316.0" cy="605.0" r="13"/>
<circle cx="321.3" cy="612.4" r="13"/>
<circle cx="326.8" cy="605.2" r="13"/>
<circle cx="335.5" cy="609.4" r="13"/>
<circle cx="339.9" cy="598.6" r="13"/>
<circle cx="346.1" cy="605.8" r="13"/>
<circle cx="348.8" cy="594.8" r="13"/>
<circle cx="353.5" cy="600.5" r="13"/>
<circle cx="360.8" cy="585.2" r="13"/>
<circle cx="367.6" cy="591.2" r="13"/>
<circle cx="373.6" cy="575.3" r="13"/>
<circle cx="378.4" cy="583.9" r="13"/>
<circle cx="382.2" cy="574.7" r="13"/>
<circle cx="389.8" cy="584.8" r="13"/>
<circle cx="394.3" cy="573.1" r="13"/>
<circle cx="399.8" cy="582.3" r="13"/>
<circle cx="224.1" cy="616.8" r="13"/>
<circle cx="232.4" cy="609.8" r="13"/>
<circle cx="237.2" cy="624.0" r="13"/>
<circle cx="242.1" cy="615.4" r="13"/>
<circle cx="249.0" cy="628.1" r="13"/>
<circle cx="255.9" cy="620.7" r="13"/>
<circle cx="262.1" cy="629.7" r="13"/>
<circle cx="268.5" cy="622.5" r="13"/>
<circle cx="270.7" cy="633.6" r="13"/>
<circle cx="276.2" cy="622.9" r="13"/>
<circle cx="281.6" cy="635.7" r="13"/>
<circle cx="286.4" cy="630.8" r="13"/>
<circle cx="291.3" cy="647.1" r="13"/>
<circle cx="298.5" cy="640.4" r="13"/>
<circle cx="302.6" cy="654.0" r="13"/>
<circle cx="309.3" cy="645.5" r="13"/>
<circle cx="315.4" cy="654.2" r="13"/>
<circle cx="323.8" cy="643.0" r="13"/>
<circle cx="326.7" cy="653.6" r="13"/>
<circle cx="330.5" cy="646.3" r="13"/>
<circle cx="338.0" cy="655.5" r="13"/>
<circle cx="344.1" cy="646.1" r="13"/>
<circle cx="346.8" cy="653.5" r="13"/>
<circle cx="355.3" cy="645.2" r="13"/>
<circle cx="357.6" cy="655.6" r="13"/>
<circle cx="363.1" cy="646.7" r="13"/>
<circle cx="370.8" cy="657.0" r="13"/>
<circle cx="378.8" cy="646.6" r="13"/>
<circle cx="380.1" cy="656.1" r="13"/>
<circle cx="384.2" cy="648.1" r="13"/>
<circle cx="393.8" cy="656.8" r="13"/>
<circle cx="399.3" cy="648.1" r="13"/>
<circle cx="215.8" cy="555.4" r="13"/>
<circle cx="240.4" cy="595.3" r="13"/>
<circle cx="256.5" cy="599.9" r="13"/>
<circle cx="282.6" cy="588.4" r="13"/>
<circle cx="288.8" cy="590.7" r="13"/>
<circle cx="310.3" cy="588.4" r="13"/>
<circle cx="326.5" cy="586.1" r="13"/>
<circle cx="353.4" cy="576.9" r="13"/>
<circle cx="375.6" cy="556.9" r="13"/>
<circle cx="391.8" cy="568.4" r="13"/>
<circle cx="411.8" cy="556.1" r="13"/>
<circle cx="236.5" cy="623.8" r="13"/>
<circle cx="247.3" cy="626.8" r="13"/>
<circle cx="241.9" cy="654.5" r="13"/>
<circle cx="243.0" cy="669.9" r="13"/>
<circle cx="258.0" cy="636.0" r="13"/>
<circle cx="276.5" cy="640.7" r="13"/>
<circle cx="295.0" cy="649.9" r="13"/>
<circle cx="300.3" cy="673.7" r="13"/>
<circle cx="316.5" cy="671.4" r="13"/>
<circle cx="331.8" cy="665.3" r="13"/>
<circle cx="353.4" cy="678.3" r="13"/>
<circle cx="365.7" cy="666.8" r="13"/>
<circle cx="396.4" cy="679.9" r="13"/>
<circle cx="352.9" cy="679.0" r="13"/>
<circle cx="477.8" cy="679.0" r="13"/>
<circle cx="558.9" cy="680.6" r="13"/>
<circle cx="676.2" cy="675.8" r="13"/>
<circle cx="807.6" cy="667.7" r="13"/>
<circle cx="835.2" cy="670.9" r="13"/>
<circle cx="902.2" cy="650.0" r="13"/>
<circle cx="934.4" cy="653.8" r="13"/>
<circle cx="946.6" cy="654.4" r="13"/>
<circle cx="968.8" cy="648.9" r="13"/>
<circle cx="1004.4" cy="647.7" r="13"/>
<circle cx="1012.1" cy="640.0" r="13"/>
<circle cx="1249.9" cy="549.7" r="13"/>
<circle cx="1131.0" cy="561.1" r="13"/>
<circle cx="1081.6" cy="567.2" r="13"/>
<circle cx="1082.2" cy="577.7" r="13"/>
<circle cx="1098.3" cy="584.4" r="13"/>
<circle cx="1056.6" cy="566.6" r="13"/>
<circle cx="1048.9" cy="576.6" r="13"/>
<circle cx="1046.1" cy="588.8" r="13"/>
<circle cx="1075.0" cy="603.8" r="13"/>
<circle cx="1032.2" cy="609.9" r="13"/>
<circle cx="1048.9" cy="620.5" r="13"/>
<circle cx="1033.2" cy="611.1" r="13"/>
<circle cx="1028.0" cy="556.0" r="13"/>
<circle cx="1036.0" cy="566.0" r="13"/>
<circle cx="1030.0" cy="580.0" r="13"/>
<circle cx="1038.0" cy="592.0" r="13"/>
<circle cx="1027.0" cy="598.0" r="13"/>
<circle cx="1022.0" cy="615.0" r="13"/>
<circle cx="1018.0" cy="627.0" r="13"/>
<circle cx="1040.0" cy="577.0" r="13"/>
<circle cx="1024.0" cy="570.0" r="13"/>
<circle cx="1026.0" cy="553.0" r="13"/>
<circle cx="1040.0" cy="556.0" r="13"/>
<circle cx="1020.0" cy="590.0" r="13"/>
</g></g>
<line x1="222.6" y1="242.9" x2="1550.1" y2="242.9" stroke="#858585" stroke-width="3.8" stroke-dasharray="19.3 4 3.6 4.1" stroke-dashoffset="0"/>
<line x1="222.6" y1="278.4" x2="1550.1" y2="278.4" stroke="#858585" stroke-width="3.8" stroke-dasharray="19.3 4 3.6 4.1" stroke-dashoffset="0"/>
<path d="M860.0,187.1C850.7,187.3 833.6,188.1 824.3,188.7C815.0,189.2 810.8,189.7 804.0,190.4C797.2,191.2 790.5,192.1 783.7,193.2C776.9,194.3 770.2,195.6 763.4,196.9C756.6,198.2 750.2,200.0 743.0,200.9C735.8,201.8 726.9,201.4 720.0,202.5C713.1,203.6 708.3,205.5 701.4,207.7C694.5,209.9 686.1,212.6 678.4,215.7C670.7,218.8 662.0,222.8 655.3,226.1C648.6,229.4 642.6,233.0 638.0,235.4C633.4,237.8 630.5,238.2 627.6,240.5C624.7,242.8 622.0,246.8 620.7,249.2C619.5,251.6 619.3,252.9 620.1,255.0C620.9,257.1 623.3,260.3 625.3,261.9C627.3,263.5 629.2,263.6 632.3,264.8C635.4,266.0 640.0,267.6 643.8,268.8C647.6,270.0 651.5,271.2 655.3,272.2C659.1,273.2 662.9,273.9 666.8,274.6C670.6,275.3 672.6,275.7 678.4,276.3C684.2,276.9 694.5,277.6 701.4,278.0C708.3,278.4 713.1,278.5 720.0,278.6C726.9,278.7 735.8,278.6 743.0,278.5C750.2,278.4 756.6,278.3 763.4,278.1C770.2,277.9 776.9,277.7 783.7,277.3C790.5,276.9 797.2,276.4 804.0,276.0C810.8,275.6 815.0,275.3 824.3,274.8C833.6,274.3 850.0,273.5 860.0,273.0C870.0,272.5 877.4,272.1 884.2,271.6C891.0,271.1 894.9,270.6 900.6,270.0C906.3,269.4 912.5,268.5 918.3,267.8C924.1,267.1 929.7,266.6 935.4,266.0C941.1,265.4 946.8,264.6 952.5,263.9C958.2,263.2 965.0,262.3 969.6,261.8C974.2,261.3 974.6,261.3 980.0,260.9C985.4,260.5 995.0,260.0 1002.1,259.4C1009.2,258.8 1015.6,257.9 1022.4,257.0C1029.2,256.1 1035.9,254.9 1042.7,253.7C1049.5,252.5 1057.9,250.6 1063.0,249.6C1068.1,248.6 1069.8,248.6 1073.2,247.6C1076.6,246.6 1078.3,245.3 1083.4,243.6C1088.5,241.9 1098.6,238.9 1103.7,237.5C1108.8,236.1 1110.8,236.0 1113.8,235.0C1116.8,234.0 1119.7,233.0 1121.9,231.4C1124.1,229.8 1125.7,227.1 1127.0,225.3C1128.3,223.5 1129.8,222.2 1130.0,220.8C1130.2,219.5 1130.0,218.5 1128.0,217.2C1126.0,215.9 1122.0,214.5 1117.9,213.1C1113.9,211.7 1109.5,210.3 1103.7,209.0C1098.0,207.7 1090.2,206.2 1083.4,205.0C1076.6,203.8 1069.8,202.8 1063.0,201.9C1056.2,201.0 1049.5,200.1 1042.7,199.3C1035.9,198.5 1029.2,197.8 1022.4,196.9C1015.6,196.0 1008.9,194.8 1002.1,194.0C995.3,193.2 988.6,192.5 981.8,191.8C975.0,191.1 968.3,190.5 961.5,190.0C954.7,189.5 948.0,189.0 941.2,188.7C934.4,188.3 927.7,188.0 920.9,187.9C914.1,187.8 907.4,188.3 900.6,188.3C893.8,188.3 887.1,187.9 880.3,187.7C873.5,187.5 869.3,186.9 860.0,187.1Z" fill="none" stroke="#4169e1" stroke-opacity="0.5" stroke-width="6.4" stroke-linejoin="round"/>
<path d="M860.0,163.6C854.4,163.9 829.9,164.6 824.3,164.8C818.7,165.0 807.5,165.9 804.0,166.0C800.5,166.1 793.0,165.4 789.2,165.8C785.4,166.2 770.7,168.7 766.1,169.6C761.5,170.5 747.7,173.7 743.1,174.9C738.5,176.1 724.2,180.2 720.0,181.2C715.8,182.2 705.6,184.3 701.4,185.2C697.2,186.1 681.9,189.1 678.4,189.8C674.9,190.5 668.5,191.5 666.8,192.1C665.1,192.7 662.8,195.1 661.1,196.1C659.4,197.1 652.1,200.9 649.5,201.9C646.9,202.9 636.9,205.6 634.6,206.5C632.3,207.4 627.9,210.3 626.5,211.1C625.1,211.9 622.7,213.7 620.7,214.6C618.7,215.5 609.0,218.8 606.9,219.8C604.8,220.8 601.1,224.1 600.0,225.0C598.9,225.9 597.4,227.6 595.4,228.4C593.4,229.2 583.1,232.1 580.4,233.0C577.7,233.9 570.5,236.8 568.8,237.7C567.1,238.6 564.2,241.2 563.1,242.3C562.0,243.5 558.3,247.4 557.3,249.2C556.3,251.0 553.5,258.4 552.7,260.7C551.9,263.0 549.4,270.4 549.4,272.3C549.4,274.2 551.8,278.0 552.7,279.2C553.6,280.4 556.3,283.2 558.5,284.4C560.7,285.5 571.8,289.6 574.6,290.7C577.4,291.8 583.8,294.5 586.1,295.3C588.4,296.1 595.4,298.2 597.7,298.8C600.0,299.4 606.9,301.2 609.2,301.7C611.5,302.2 618.4,303.2 620.7,303.4C623.0,303.6 628.8,303.9 632.3,304.0C635.8,304.1 650.7,304.4 655.3,304.5C659.9,304.6 671.9,304.5 678.4,304.5C684.9,304.5 715.6,304.2 720.0,304.2C724.4,304.2 720.4,304.8 722.7,304.9C725.0,305.0 739.3,305.0 743.0,304.9C746.7,304.8 755.2,304.1 759.3,303.7C763.4,303.3 779.2,301.7 783.7,301.4C788.2,301.1 799.9,300.6 804.0,300.4C808.1,300.2 818.7,299.7 824.3,299.6C829.9,299.5 854.0,299.5 860.0,299.4C866.0,299.2 880.1,298.4 884.2,298.1C888.3,297.8 897.8,296.8 901.2,296.4C904.6,296.0 914.9,294.1 918.3,293.9C921.7,293.7 932.0,294.3 935.4,294.1C938.8,293.9 949.1,292.5 952.5,292.1C955.9,291.7 966.9,290.7 969.6,290.4C972.4,290.1 976.8,289.7 980.0,289.5C983.2,289.3 997.9,288.5 1002.1,288.2C1006.3,287.9 1018.6,287.0 1022.4,286.8C1026.2,286.6 1036.2,286.9 1040.0,286.6C1043.8,286.3 1056.2,284.2 1060.3,283.6C1064.4,283.0 1076.5,281.5 1080.6,281.0C1084.7,280.5 1096.8,279.6 1100.9,279.0C1105.0,278.4 1117.1,275.6 1121.2,275.0C1125.3,274.4 1137.4,273.3 1141.5,273.0C1145.6,272.7 1157.7,272.3 1161.8,272.0C1165.9,271.7 1178.0,270.6 1182.1,270.0C1186.2,269.4 1198.3,266.9 1202.4,266.3C1206.5,265.7 1218.6,264.5 1222.7,264.0C1226.8,263.5 1240.0,261.9 1243.0,261.5C1246.0,261.1 1251.2,260.3 1253.2,259.8C1255.2,259.3 1260.4,257.6 1263.4,256.8C1266.5,256.0 1279.6,252.7 1283.7,251.7C1287.8,250.7 1299.9,247.5 1304.0,246.6C1308.1,245.7 1322.2,243.3 1324.3,242.5C1326.4,241.7 1325.8,239.8 1325.3,238.9C1324.8,238.0 1319.6,234.4 1319.2,233.2C1318.8,232.0 1319.9,228.2 1321.2,227.2C1322.5,226.2 1329.7,224.2 1332.4,223.5C1335.1,222.8 1348.4,220.9 1348.6,220.0C1348.8,219.1 1335.9,215.5 1334.4,214.6C1332.9,213.7 1332.8,211.5 1333.4,210.9C1334.0,210.3 1339.8,209.5 1340.5,208.9C1341.2,208.3 1343.1,206.1 1340.5,205.2C1337.9,204.3 1317.1,200.6 1314.1,199.7C1311.0,198.8 1311.4,196.4 1310.0,195.7C1308.6,195.0 1302.5,193.5 1299.9,193.0C1297.3,192.5 1287.4,191.1 1283.7,190.6C1280.0,190.1 1267.5,188.2 1263.4,187.6C1259.3,186.9 1246.0,184.7 1243.0,184.1C1240.0,183.5 1237.0,181.9 1232.9,181.5C1228.8,181.1 1207.5,181.0 1202.4,180.5C1197.3,180.0 1186.2,177.0 1182.1,176.6C1178.0,176.2 1165.9,176.4 1161.8,176.2C1157.7,176.0 1145.6,175.3 1141.5,175.0C1137.4,174.7 1125.3,173.3 1121.2,172.8C1117.1,172.3 1105.0,170.3 1100.9,170.0C1096.8,169.7 1084.4,169.6 1080.6,169.6C1076.8,169.6 1066.8,170.1 1063.0,170.0C1059.2,169.9 1046.8,169.2 1042.7,168.8C1038.6,168.4 1026.5,166.5 1022.4,166.0C1018.3,165.5 1006.2,164.3 1002.1,164.0C998.0,163.7 985.9,162.9 981.8,162.7C977.7,162.5 967.6,162.0 961.5,161.9C955.4,161.8 929.0,161.5 920.9,161.5C912.8,161.5 886.4,161.3 880.3,161.5C874.2,161.7 865.6,163.3 860.0,163.6Z" fill="none" stroke="#191970" stroke-opacity="0.5" stroke-width="6.4" stroke-linejoin="round"/>
<path d="M701.2,617.8C701.5,615.9 703.4,613.5 705.3,611.7C707.2,609.9 712.2,606.5 715.4,604.6C718.6,602.7 726.6,599.5 729.6,597.5C732.6,595.5 735.6,591.5 737.8,589.3C740.0,587.1 742.7,583.9 745.9,581.2C749.1,578.5 757.2,572.4 762.1,569.0C767.0,565.6 777.0,558.8 782.4,555.8C787.8,552.8 797.3,548.9 802.7,546.3C808.1,543.7 817.6,539.2 823.0,536.5C828.4,533.8 838.0,528.8 843.4,526.4C848.8,524.0 858.3,520.3 863.7,518.3C869.1,516.3 879.4,513.1 884.0,511.2C888.6,509.3 895.6,505.6 898.2,504.1C900.8,502.6 897.6,503.1 903.2,500.0C908.8,496.9 933.7,484.1 940.0,480.7C946.3,477.3 946.2,476.2 950.3,474.6C954.4,473.0 965.3,470.2 970.8,468.4C976.3,466.6 985.8,463.0 991.3,461.2C996.8,459.4 1006.3,456.9 1011.8,455.1C1017.3,453.3 1026.8,449.5 1032.3,447.9C1037.8,446.3 1048.7,443.9 1052.8,442.8C1056.9,441.7 1060.3,441.0 1063.0,439.7C1065.7,438.4 1070.6,434.4 1073.3,432.8C1076.0,431.2 1079.4,429.2 1083.5,427.9C1087.6,426.6 1098.5,424.5 1104.0,422.9C1109.5,421.3 1119.0,417.6 1124.5,415.8C1130.0,414.0 1139.5,411.1 1145.0,409.6C1150.5,408.1 1160.0,405.6 1165.5,404.3C1171.0,403.0 1181.1,401.3 1186.0,399.7C1190.9,398.1 1198.3,394.0 1202.4,392.6C1206.5,391.2 1213.0,389.4 1216.8,388.9C1220.6,388.4 1228.0,388.0 1231.1,388.5C1234.2,389.0 1238.8,390.4 1240.3,392.6C1241.8,394.8 1241.6,402.2 1242.4,404.9C1243.2,407.6 1246.6,411.1 1246.5,413.1C1246.4,415.1 1244.0,417.7 1241.4,420.2C1238.8,422.7 1231.1,428.8 1227.0,431.5C1222.9,434.2 1212.5,438.9 1210.6,440.7C1208.7,442.5 1211.1,443.7 1212.7,444.8C1214.3,445.9 1221.3,447.7 1222.9,448.9C1224.5,450.1 1225.5,452.7 1225.0,454.1C1224.5,455.5 1221.3,457.7 1218.8,459.2C1216.3,460.7 1208.6,463.8 1206.5,465.3C1204.4,466.8 1203.9,469.1 1203.4,470.5C1202.9,471.9 1203.6,474.4 1202.4,475.6C1201.2,476.8 1196.9,478.6 1194.2,479.7C1191.5,480.8 1185.7,482.0 1181.9,483.8C1178.1,485.6 1169.3,490.7 1165.5,493.0C1161.7,495.3 1157.3,498.7 1153.2,501.2C1149.1,503.7 1140.0,509.2 1134.8,511.5C1129.6,513.8 1119.8,517.1 1114.3,518.6C1108.8,520.1 1099.3,521.3 1093.8,522.7C1088.3,524.1 1078.8,526.8 1073.3,528.9C1067.8,531.0 1058.3,535.5 1052.8,538.1C1047.3,540.7 1037.8,545.7 1032.3,548.4C1026.8,551.1 1015.9,556.4 1011.8,558.6C1007.7,560.8 1005.6,562.9 1001.5,564.8C997.4,566.7 986.5,571.1 981.0,573.0C975.5,574.9 966.0,577.9 960.5,579.1C955.0,580.3 944.8,581.5 940.0,582.2C935.2,582.9 929.4,583.5 924.6,584.3C919.8,585.1 909.7,586.9 904.3,588.3C898.9,589.7 888.1,593.5 884.0,595.0C879.9,596.5 876.5,598.1 873.8,599.5C871.1,600.9 866.4,604.1 863.7,605.6C861.0,607.1 857.6,609.4 853.5,610.7C849.4,612.0 838.6,614.7 833.2,615.7C827.8,616.7 818.3,617.4 812.9,618.2C807.5,619.0 798.0,620.4 792.6,621.4C787.2,622.4 777.7,624.8 772.3,625.9C766.9,627.0 757.4,629.0 752.0,629.9C746.6,630.8 736.3,632.5 731.7,633.0C727.1,633.5 720.5,634.1 717.5,634.0C714.5,633.9 711.2,633.1 709.3,632.0C707.4,630.9 704.3,627.8 703.2,625.9C702.1,624.0 700.9,619.7 701.2,617.8Z" fill="none" stroke="#daa520" stroke-opacity="0.5" stroke-width="6.4" stroke-linejoin="round"/>
<path d="M633.2,648.2C633.4,646.3 634.3,644.5 636.2,642.1C638.1,639.7 640.3,637.4 644.4,634.0C648.5,630.6 654.5,626.0 660.6,621.8C666.7,617.6 674.1,612.7 680.9,608.6C687.7,604.5 694.4,600.8 701.2,597.1C708.0,593.4 714.7,589.8 721.5,586.3C728.3,582.8 735.0,579.3 741.8,576.1C748.6,572.9 755.3,570.0 762.1,567.0C768.9,564.0 775.6,560.9 782.4,557.9C789.2,554.9 795.9,551.6 802.7,548.7C809.5,545.8 816.2,543.4 823.0,540.6C829.8,537.8 836.6,534.9 843.4,532.1C850.2,529.3 856.9,526.6 863.7,524.0C870.5,521.4 877.2,518.9 884.0,516.6C890.8,514.3 897.5,512.2 904.3,510.2C911.1,508.2 918.6,506.3 924.6,504.5C930.6,502.7 934.0,501.7 940.0,499.5C946.0,497.3 953.7,493.8 960.5,491.4C967.3,488.9 974.2,487.1 981.0,484.8C987.8,482.5 994.7,479.8 1001.5,477.6C1008.3,475.4 1015.2,473.4 1022.0,471.5C1028.8,469.6 1035.7,467.6 1042.5,465.9C1049.3,464.2 1056.2,462.6 1063.0,461.2C1069.8,459.8 1076.7,458.7 1083.5,457.7C1090.3,456.7 1097.2,455.7 1104.0,455.1C1110.8,454.5 1117.7,454.1 1124.5,454.1C1131.3,454.1 1139.9,454.4 1145.0,455.1C1150.1,455.8 1152.7,456.8 1155.3,458.2C1157.9,459.6 1159.4,461.6 1160.4,463.3C1161.4,465.0 1161.6,466.2 1161.4,468.4C1161.2,470.6 1160.8,473.9 1159.4,476.6C1158.0,479.3 1155.6,482.1 1153.2,484.8C1150.8,487.5 1148.1,490.3 1145.0,493.0C1141.9,495.7 1138.2,498.6 1134.8,501.2C1131.4,503.8 1127.9,506.2 1124.5,508.4C1121.1,510.6 1117.7,512.5 1114.3,514.5C1110.9,516.5 1109.1,517.8 1104.0,520.7C1098.9,523.6 1090.3,528.2 1083.5,532.0C1076.7,535.8 1069.8,539.8 1063.0,543.2C1056.2,546.6 1049.3,549.2 1042.5,552.5C1035.7,555.8 1028.8,559.5 1022.0,562.7C1015.2,565.9 1008.3,568.8 1001.5,571.9C994.7,575.0 987.8,578.3 981.0,581.2C974.2,584.1 967.3,586.7 960.5,589.4C953.7,592.1 946.0,595.4 940.0,597.6C934.0,599.8 930.6,600.5 924.6,602.5C918.6,604.5 911.1,607.3 904.3,609.6C897.5,611.9 890.8,613.9 884.0,616.1C877.2,618.3 870.5,620.7 863.7,622.8C856.9,624.9 850.2,627.0 843.4,628.9C836.6,630.8 829.8,632.5 823.0,634.4C816.2,636.3 809.5,638.3 802.7,640.1C795.9,641.9 789.2,643.5 782.4,645.2C775.6,646.9 768.9,648.7 762.1,650.3C755.3,651.9 748.6,653.4 741.8,654.7C735.0,656.1 728.3,657.3 721.5,658.4C714.7,659.5 708.0,660.7 701.2,661.4C694.4,662.1 687.7,662.3 680.9,662.4C674.1,662.5 665.7,662.3 660.6,662.0C655.5,661.7 653.9,661.2 650.5,660.4C647.1,659.6 642.8,658.6 640.3,657.4C637.8,656.2 636.4,654.8 635.2,653.3C634.0,651.8 633.0,650.1 633.2,648.2Z" fill="none" stroke="#008000" stroke-opacity="0.5" stroke-width="6.4" stroke-linejoin="round"/>

<g fill="none" stroke="#008b8b" stroke-width="10">
<path d="M758.0,262.4C762.8,261.4 777.2,258.2 787.0,256.6C796.8,255.0 811.9,253.4 816.9,252.8"/>
<path d="M854.7,254.9C856.8,255.2 862.2,255.4 867.1,256.4C872.0,257.4 878.5,258.8 884.2,260.9C889.9,263.0 896.9,267.1 901.2,269.0C905.5,270.9 908.7,271.9 910.2,272.5"/>
<path d="M939.7,295.5C941.6,297.6 946.8,303.3 950.8,308.3C954.8,313.3 960.2,320.1 963.6,325.4C967.0,330.7 969.8,337.1 971.3,340.0C972.8,342.9 972.4,342.2 972.6,342.7"/>
<path d="M986.9,376.9C987.8,380.0 990.6,388.9 992.2,395.3C993.9,401.7 995.6,409.0 996.8,415.3C998.0,421.6 999.1,430.1 999.6,433.0"/>
<path d="M1004.2,469.1C1004.6,473.8 1005.8,487.5 1006.3,497.0C1006.8,506.5 1007.0,521.2 1007.1,526.1"/>
<path d="M1007.1,564.1C1007.0,568.8 1006.6,582.6 1006.3,592.0C1006.0,601.4 1005.3,615.9 1005.1,620.7"/>
<path d="M1002.6,658.0C1002.4,662.7 1001.7,676.5 1001.2,686.0C1000.7,695.5 1000.0,710.2 999.8,715.0"/>
<path d="M999.3,757.0C999.3,761.7 999.3,775.7 999.5,785.0C999.7,794.3 1000.3,808.3 1000.5,813.0"/>
<path d="M736.1,269.2L744.9,266.4"/>
<path d="M831.3,252.9L840.5,253.1"/>
<path d="M922.7,279.7L929.3,286.3"/>
<path d="M978.6,355.8L982.2,364.2"/>
<path d="M1001.6,446.8L1002.8,456.0"/>
<path d="M1007.1,540.7L1007.1,549.9"/>
<path d="M1003.9,634.4L1003.5,643.6"/>
<path d="M999.6,731.4L999.4,740.6"/>
</g>
<path d="M731.8,202.1C733.7,201.2 737.4,199.2 743.1,196.9C748.8,194.6 758.4,190.8 766.1,188.3C773.8,185.8 781.5,183.7 789.2,181.9C796.9,180.1 804.6,178.7 812.3,177.6C820.0,176.5 829.5,175.9 835.3,175.5C841.0,175.1 842.9,175.0 846.8,174.9C850.6,174.8 852.9,174.7 858.4,175.1C863.9,175.5 873.5,176.1 880.0,177.1C886.5,178.1 891.4,179.2 897.1,180.8C902.8,182.4 908.5,184.4 914.2,186.8C919.9,189.2 925.5,191.6 931.2,195.1C936.9,198.6 943.9,204.6 948.3,208.1C952.6,211.6 954.4,213.2 957.3,216.2C960.1,219.2 962.6,222.5 965.4,226.1C968.2,229.7 971.3,233.9 974.0,238.0C976.7,242.1 979.3,245.9 981.8,250.4C984.3,254.9 986.9,260.3 989.1,265.0C991.3,269.7 993.3,274.1 995.0,278.4C996.7,282.7 997.8,286.1 999.3,290.7C1000.8,295.3 1002.4,301.2 1003.8,306.1C1005.2,311.0 1006.3,315.1 1007.5,320.0C1008.7,324.9 1009.9,330.3 1010.9,335.4C1011.9,340.5 1012.6,345.7 1013.4,350.8C1014.1,355.9 1014.8,361.0 1015.4,366.1C1016.0,371.2 1016.4,376.4 1016.8,381.5C1017.2,386.6 1017.6,392.1 1017.9,396.9C1018.2,401.6 1018.5,405.6 1018.7,410.0C1018.9,414.4 1019.0,418.3 1019.1,423.0C1019.2,427.7 1019.3,433.3 1019.3,438.4C1019.3,443.5 1019.3,448.6 1019.3,453.7C1019.3,458.8 1019.2,463.8 1019.1,469.1C1019.0,474.4 1018.6,480.1 1018.4,485.4C1018.1,490.7 1017.9,495.6 1017.6,500.7C1017.3,505.8 1017.0,511.0 1016.8,516.1C1016.5,521.2 1016.4,526.4 1016.1,531.5C1015.8,536.6 1015.4,541.8 1015.0,546.9C1014.6,552.0 1014.2,557.1 1013.8,562.2C1013.4,567.3 1012.9,572.5 1012.5,577.6C1012.1,582.7 1011.7,587.9 1011.3,593.0C1010.9,598.1 1010.4,603.3 1009.9,608.4C1009.4,613.5 1008.9,618.6 1008.5,623.7C1008.1,628.8 1007.7,633.8 1007.3,639.1C1006.9,644.4 1006.6,650.1 1006.1,655.4C1005.6,660.7 1005.0,665.6 1004.5,670.7C1004.0,675.8 1003.7,681.0 1003.3,686.1C1002.9,691.2 1002.5,696.4 1002.2,701.5C1001.9,706.6 1001.7,711.8 1001.5,716.9C1001.3,722.0 1001.0,727.1 1000.8,732.2C1000.6,737.3 1000.5,742.5 1000.5,747.6C1000.5,752.7 1000.6,757.9 1000.7,763.0C1000.8,768.1 1001.0,773.3 1001.2,778.4C1001.4,783.5 1001.7,790.1 1001.9,793.7C1002.1,797.3 1002.3,799.0 1002.4,800.0L1011.2,850.2L1032.8,897.4L1068.6,934.3L1121.9,967.0L1206.3,996.8L1322.1,1019.9L1357.7,1025.3L1419.8,1030.6" fill="none" stroke="#ff0000" stroke-width="10.7" stroke-linejoin="round" stroke-linecap="butt"/>
</g>
<g shape-rendering="crispEdges"><line x1="1310" y1="887" x2="1413" y2="887" stroke="#008b8b" stroke-width="10" stroke-dasharray="59 14.5 9.5 14.5"/>
<line x1="1305.2" y1="957" x2="1418" y2="957" stroke="#ff0000" stroke-width="10"/></g>
<g fill="#000" shape-rendering="crispEdges">
<rect x="516" y="1016" width="3.5" height="12"/>
<rect x="811" y="1016" width="3.5" height="12"/>
<rect x="1106" y="1016" width="3.5" height="12"/>
<rect x="1401" y="1016" width="3.5" height="12"/>
<rect x="223" y="152" width="13" height="4"/>
<rect x="1537" y="152" width="12" height="4"/>
<rect x="223" y="263" width="13" height="4"/>
<rect x="1537" y="263" width="12" height="4"/>
<rect x="223" y="374" width="13" height="4"/>
<rect x="1537" y="374" width="12" height="4"/>
<rect x="223" y="485" width="13" height="4"/>
<rect x="1537" y="485" width="12" height="4"/>
<rect x="223" y="596" width="13" height="4"/>
<rect x="1537" y="596" width="12" height="4"/>
<rect x="223" y="707" width="13" height="4"/>
<rect x="1537" y="707" width="12" height="4"/>
<rect x="223" y="818" width="13" height="4"/>
<rect x="1537" y="818" width="12" height="4"/>
<rect x="223" y="929" width="13" height="4"/>
<rect x="1537" y="929" width="12" height="4"/>
<rect x="221" y="41" width="3" height="989"/><rect x="1548" y="41" width="4" height="989"/><rect x="221" y="41" width="1331" height="4"/><rect x="221" y="1027" width="1331" height="3"/>
</g>
<text id="y0" transform="translate(101.07,60.84) scale(1.100,1)" font-size="50.75" letter-spacing="2.86">2.50</text>
<text id="y1" transform="translate(101.13,171.85) scale(1.100,1)" font-size="50.97" letter-spacing="2.78">2.25</text>
<text id="y2" transform="translate(101.18,282.26) scale(1.100,1)" font-size="50.68" letter-spacing="2.86">2.00</text>
<text id="y3" transform="translate(100.35,393.29) scale(1.100,1)" font-size="51.09" letter-spacing="2.95">1.75</text>
<text id="y4" transform="translate(100.57,504.13) scale(1.100,1)" font-size="50.67" letter-spacing="3.06">1.50</text>
<text id="y5" transform="translate(100.36,615.11) scale(1.100,1)" font-size="50.93" letter-spacing="2.96">1.25</text>
<text id="y6" transform="translate(100.44,727.02) scale(1.100,1)" font-size="50.77" letter-spacing="3.12">1.00</text>
<text id="y7" transform="translate(101.49,837.62) scale(1.100,1)" font-size="50.66" letter-spacing="2.77">0.75</text>
<text id="y8" transform="translate(101.22,948.24) scale(1.100,1)" font-size="50.68" letter-spacing="2.81">0.50</text>
<text id="x8" transform="translate(208.43,1077.72) scale(1.113,1)" font-size="51.71" letter-spacing="0.00">8</text>
<text id="x10" transform="translate(487.50,1077.90) scale(1.100,1)" font-size="51.50" letter-spacing="2.48">10</text>
<text id="x12" transform="translate(782.27,1078.00) scale(1.100,1)" font-size="52.46" letter-spacing="2.81">12</text>
<text id="x14" transform="translate(1077.45,1078.00) scale(1.100,1)" font-size="52.70" letter-spacing="1.03">14</text>
<text id="x16" transform="translate(1372.15,1077.72) scale(1.100,1)" font-size="51.64" letter-spacing="3.12">16</text>
<text id="xl" transform="translate(789.98,1142.70) scale(1.180,1)" font-size="53.72" letter-spacing="1.00">R <tspan class="n">(</tspan>km<tspan class="n">)</tspan></text>
<text id="yl1" transform="translate(73.24,641.02) rotate(-90) scale(1.100,1)" font-size="56.65" letter-spacing="0.86">M <tspan class="n">(</tspan>M</text><text id="yl2" transform="translate(84.31,489.42) rotate(-90) scale(0.922,1)" font-size="45.00" letter-spacing="0.00" class="sun">⊙</text><text id="yl3" transform="translate(72.97,451.17) rotate(-90) scale(0.855,1)" font-size="60.63" letter-spacing="0.00" class="n2">)</text>
<text id="gw1" transform="translate(465.20,477.00) scale(1.100,1)" font-size="50.00" letter-spacing="3.56"><tspan class="c">GW</tspan>170817 <tspan class="c">M</tspan>1</text>
<text id="gw2" transform="translate(465.20,632.00) scale(1.100,1)" font-size="50.00" letter-spacing="3.79"><tspan class="c">GW</tspan>170817 <tspan class="c">M</tspan>2</text>
<text id="p0740" transform="translate(987.10,145.46) scale(1.100,1)" font-size="40.56" letter-spacing="1.56"><tspan class="c">PSR J</tspan>0740 <tspan class="p" dy="0.143em">+</tspan><tspan dy="-0.24em"> 6620</tspan></text>
<text id="p0030" transform="translate(1134.48,521.95) scale(1.100,1)" font-size="39.85" letter-spacing="1.98"><tspan class="c">PSR J</tspan>0030 <tspan class="p" dy="0.143em">+</tspan><tspan dy="-0.24em"> 0451</tspan></text>
<text id="p0348" transform="translate(236.58,272.64) scale(1.100,1)" font-size="33.12" letter-spacing="2.18"><tspan class="c">PSR J</tspan>0348 <tspan class="p" dy="0.143em">+</tspan><tspan dy="-0.24em"> 0432</tspan></text>
<text id="lh" transform="translate(1457.32,904.46) scale(1.253,1)" font-size="49.90" letter-spacing="0.00" font-style="italic">H</text>
<text id="ld" transform="translate(1455.10,972.42) scale(1.443,1)" font-size="49.24" letter-spacing="0.00">Δ</text>
</svg></body></html>
